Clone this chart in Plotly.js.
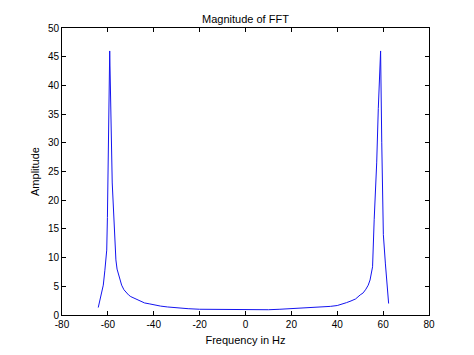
<!DOCTYPE html>
<html>
<head>
<meta charset="utf-8">
<script src="https://cdn.plot.ly/plotly-3.0.1.min.js"></script>
<style>html,body{margin:0;padding:0;background:#fff;}#chart{width:474px;height:355px;}</style>
</head>
<body>
<div id="chart"></div>
<script>
const freq = [-64.2, -63.5, -62.7, -62, -61.3, -60.5, -60.2, -59.2, -58.1, -57.6, -57, -56.5, -56, -55, -54, -53, -52, -51, -50, -48, -46, -44, -42, -40, -37, -34, -31, -28, -25, -20, -15, -10, -5, 0, 5, 10, 15, 20, 25, 30, 34, 37, 40, 42, 44, 46, 48, 50, 51.3, 52.5, 53.5, 54.3, 55.4, 56.1, 57.2, 57.9, 58.9, 59.4, 60.1, 61, 62.4];
const magnitude = [1.3, 2.4, 3.8, 5.2, 7.8, 11.3, 17, 46, 23, 17.8, 12.5, 9.6, 8.0, 6.4, 5.2, 4.4, 3.9, 3.5, 3.2, 2.8, 2.4, 2.1, 1.95, 1.75, 1.55, 1.4, 1.27, 1.18, 1.1, 1.0, 0.97, 0.92, 0.88, 0.87, 0.88, 0.92, 1.0, 1.1, 1.2, 1.3, 1.4, 1.5, 1.65, 1.85, 2.15, 2.45, 2.8, 3.5, 3.85, 4.5, 5.2, 6.1, 8.4, 16.6, 26.5, 36, 46, 30, 14, 8.9, 2.0];
const xTicks = [-80, -60, -40, -20, 0, 20, 40, 60, 80];
const yTicks = [0, 5, 10, 15, 20, 25, 30, 35, 40, 45, 50];

const font = {family: 'Liberation Sans, Arial, sans-serif', color: '#000'};
const axisCommon = {
  showline: true, linecolor: '#000', linewidth: 1, mirror: 'allticks',
  ticks: 'inside', ticklen: 4, tickwidth: 1, tickcolor: '#000',
  showgrid: false, zeroline: false, tickmode: 'array',
  tickfont: Object.assign({size: 10}, font)
};
Plotly.newPlot('chart', [{
  x: freq, y: magnitude, type: 'scatter', mode: 'lines',
  line: {color: 'rgb(20,20,240)', width: 1}, hoverinfo: 'none'
}], {
  width: 474, height: 355,
  margin: {l: 62, r: 45, t: 28, b: 40},
  paper_bgcolor: '#fff', plot_bgcolor: '#fff',
  showlegend: false,
  title: {text: 'Magnitude of FFT', font: Object.assign({size: 11}, font),
          x: 0.5, xref: 'paper', xanchor: 'center', y: 1 - 19/355, yref: 'container', yanchor: 'middle'},
  xaxis: Object.assign({}, axisCommon, {range: [-80, 80], tickvals: xTicks, ticktext: xTicks.map(String),
          title: {text: 'Frequency in Hz', font: Object.assign({size: 11}, font), standoff: 7}}),
  yaxis: Object.assign({}, axisCommon, {range: [0, 50], tickvals: yTicks, ticktext: yTicks.map(String),
          title: {text: 'Amplitude', font: Object.assign({size: 11}, font), standoff: 6}})
}, {staticPlot: true, displayModeBar: false});
</script>
</body>
</html>
